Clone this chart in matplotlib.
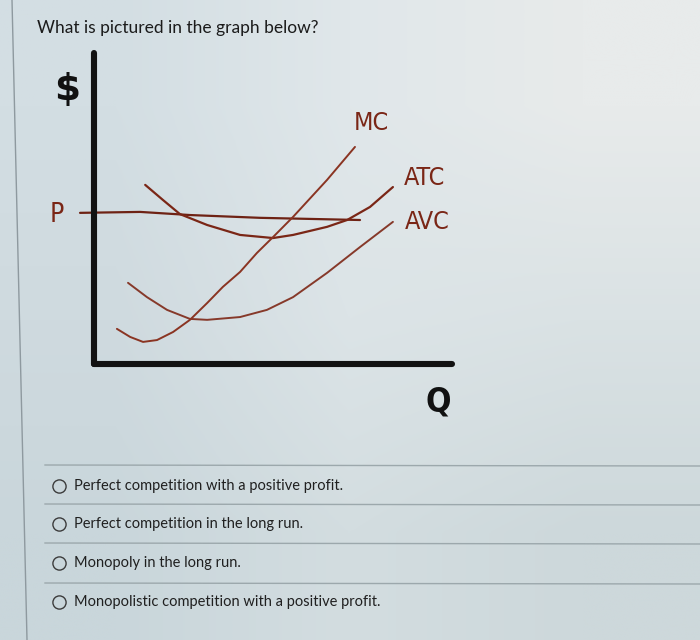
import numpy as np
import matplotlib
matplotlib.use("Agg")
import matplotlib.pyplot as plt
from matplotlib.colors import to_rgb

# ---------------- data (Q and $ in arbitrary units 0..10) -------------
mc_q = [0.64, 1.01, 1.37, 1.76, 2.21, 2.68, 3.16, 3.60, 4.08, 4.55, 5.00, 5.56, 6.51, 7.29]
mc_c = [1.13, 0.87, 0.71, 0.77, 1.03, 1.42, 1.96, 2.48, 2.96, 3.57, 4.08, 4.73, 5.92, 6.98]

atc_q = [1.43, 1.93, 2.40, 3.16, 4.08, 5.00, 5.56, 6.51, 7.07, 7.71, 8.35]
atc_c = [5.76, 5.27, 4.82, 4.47, 4.15, 4.05, 4.15, 4.41, 4.63, 5.05, 5.69]

avc_q = [0.95, 1.48, 2.04, 2.68, 3.16, 4.08, 4.83, 5.56, 6.51, 7.43, 8.35]
avc_c = [2.61, 2.15, 1.74, 1.45, 1.42, 1.51, 1.74, 2.15, 2.93, 3.76, 4.57]

p_q = [-0.39, 1.29, 2.68, 4.64, 7.43]
p_c = [4.86, 4.89, 4.79, 4.70, 4.63]

curve_labels = ["MC", "ATC", "AVC"]
price_label = "P"
y_axis_label = "$"
x_axis_label = "Q"

title = "What is pictured in the graph below?"
options = [
    "Perfect competition with a positive profit.",
    "Perfect competition in the long run.",
    "Monopoly in the long run.",
    "Monopolistic competition with a positive profit.",
]

# ---------------- figure ----------------
W, H = 700, 640
fig = plt.figure(figsize=(W / 100, H / 100), dpi=100)

# background (photo of a screen: soft light grey-blue gradient)
bg = fig.add_axes([0, 0, 1, 1])
bg.set_axis_off()
grid = [["#d3dee3", "#e0e7ea", "#e8ebeb"],
        ["#cfdadf", "#dce4e7", "#dae2e4"],
        ["#c9d6db", "#d3dde0", "#cdd8db"]]
img = np.array([[to_rgb(c) for c in row] for row in grid])
bg.imshow(img, extent=[0, W, H, 0], aspect="auto", interpolation="bilinear", zorder=0)
bg.set_xlim(0, W)
bg.set_ylim(H, 0)

# left border of the page panel and answer separators
bg.plot([12, 27], [0, H], color="#8e999f", lw=1.0, zorder=1)
for ysep in [465, 504, 543, 583]:
    bg.plot([45, W], [ysep, ysep + 1], color="#9ca8ac", lw=1.0, zorder=1)

# title
lato = ["Lato", "DejaVu Sans"]
bg.text(37, 33, title, family=lato, fontsize=12.5, color="#1b1b1b", va="baseline", ha="left", zorder=2)

# answer options
for opt, ypos in zip(options, [486, 524, 563, 602]):
    bg.plot([59], [ypos], marker="o", ms=9.5, mfc="none", mec="#3c3c3c", mew=1.0, zorder=2)
    bg.text(74, ypos, opt, family=lato, fontsize=10.5, color="#202020", va="center", ha="left", zorder=2)

# ---------------- the hand-drawn cost graph ----------------
ax = fig.add_axes([94 / W, 1 - 364 / H, 358 / W, 311 / H])
ax.set_xlim(0, 10)
ax.set_ylim(0, 10)
ax.patch.set_alpha(0)
for s in ["top", "right"]:
    ax.spines[s].set_visible(False)
for s in ["left", "bottom"]:
    ax.spines[s].set_linewidth(4.4)
    ax.spines[s].set_color("#121212")
    ax.spines[s].set_capstyle("round")
ax.set_xticks([])
ax.set_yticks([])

ink = "#7a2616"
ax.plot(p_q, p_c, color="#6e2214", lw=1.6, clip_on=False, solid_capstyle="round", solid_joinstyle="round")
ax.plot(atc_q, atc_c, color=ink, lw=1.6, clip_on=False, solid_capstyle="round", solid_joinstyle="round")
ax.plot(avc_q, avc_c, color="#86392a", lw=1.4, clip_on=False, solid_capstyle="round", solid_joinstyle="round")
ax.plot(mc_q, mc_c, color="#8a3422", lw=1.4, clip_on=False, solid_capstyle="round", solid_joinstyle="round")

hand = ["DejaVu Sans"]
label_pos = [(7.74, 7.75), (9.22, 5.98), (9.30, 4.57)]
for lab, (lx, ly) in zip(curve_labels, label_pos):
    ax.text(lx, ly, lab, family=hand, fontstretch="condensed", fontweight="light", fontsize=18,
            color=ink, ha="center", va="center", clip_on=False)

ax.text(-1.03, 4.79, price_label, family=hand, fontstretch="condensed", fontweight="light", fontsize=19,
        color=ink, ha="center", va="center", clip_on=False)
ax.text(-0.75, 8.80, y_axis_label, family=["DejaVu Sans"], fontsize=27, fontweight="bold",
        color="#111111", ha="center", va="center", clip_on=False)
ax.text(9.61, -1.22, x_axis_label, family=["DejaVu Sans"], fontstretch="condensed", fontsize=24,
        fontweight="bold", color="#111111", ha="center", va="center", clip_on=False)

fig.savefig("out.png", dpi=100)
